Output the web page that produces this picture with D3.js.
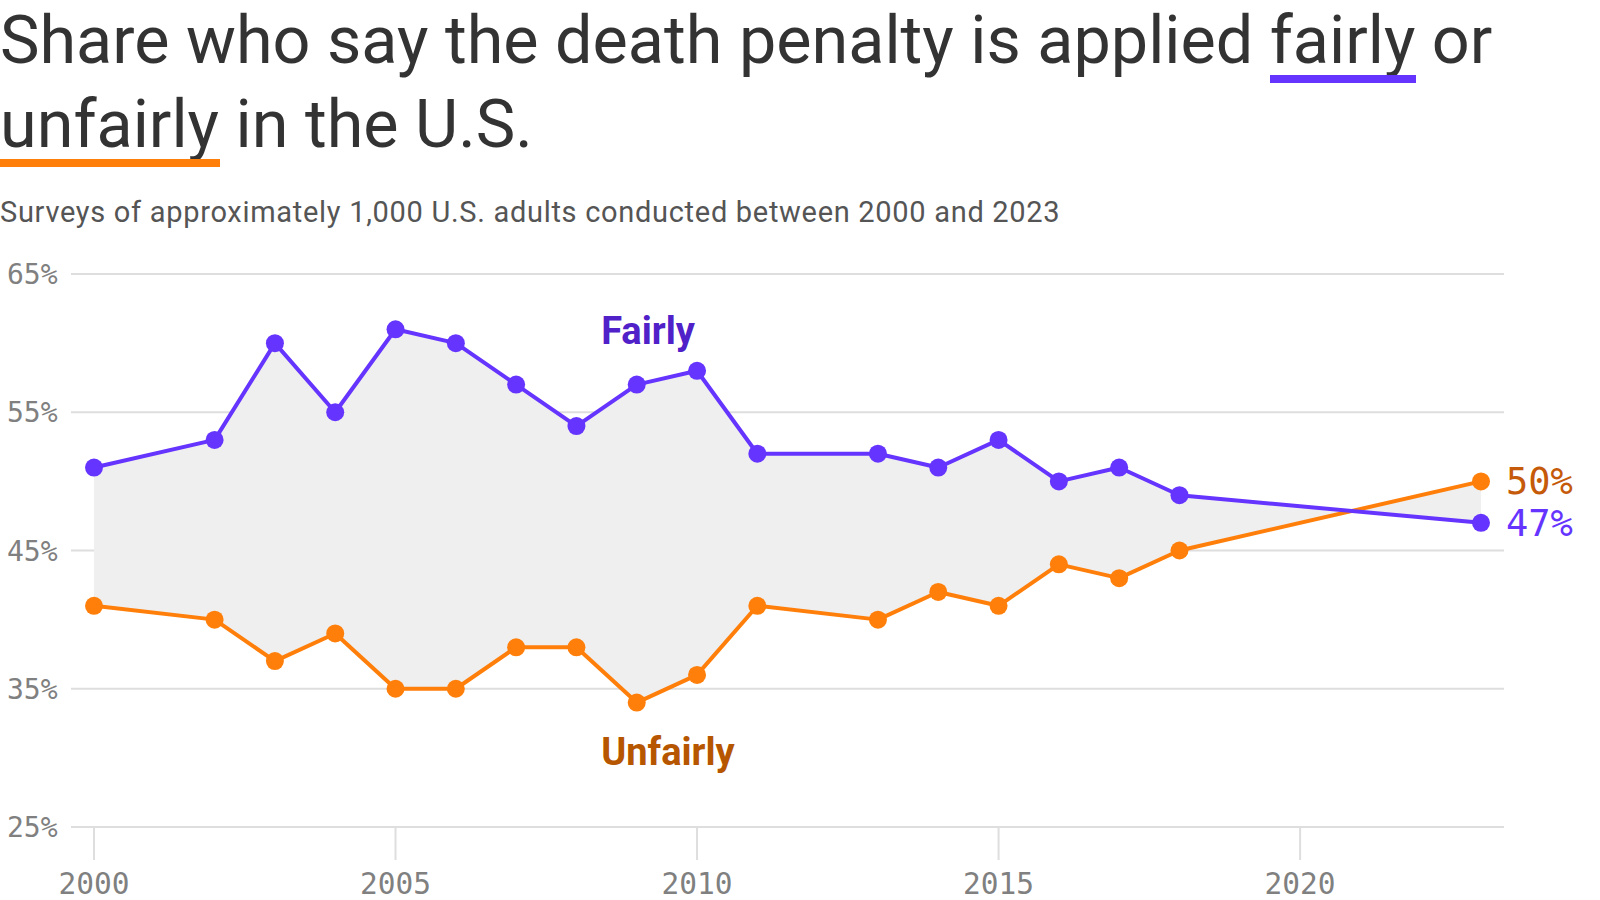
<!DOCTYPE html>
<html>
<head>
<meta charset="utf-8">
<script src="https://cdn.jsdelivr.net/npm/d3@7"></script>
<style>
  body { margin: 0; background: #fff; }
  svg { display: block; }
</style>
</head>
<body>
<div id="vis"></div>
<script>
// survey years and the two series (percent)
var years = [2000, 2002, 2003, 2004, 2005, 2006, 2007, 2008, 2009, 2010, 2011, 2013, 2014, 2015, 2016, 2017, 2018, 2023];
var fairly = [51, 53, 60, 55, 61, 60, 57, 54, 57, 58, 52, 52, 51, 53, 50, 51, 49, 47];
var unfairly = [41, 40, 37, 39, 35, 35, 38, 38, 34, 36, 41, 40, 42, 41, 44, 43, 45, 50];
var yTicks = [25, 35, 45, 55, 65];
var xTicks = [2000, 2005, 2010, 2015, 2020];

var purple = "#6534ff";
var orange = "#ff7f0a";

var width = 1600, height = 900;

var svg = d3.select("#vis")
  .append("svg")
  .attr("width", width)
  .attr("height", height);

var x = d3.scaleLinear().domain([2000, 2023]).range([94, 1481]);
var y = d3.scaleLinear().domain([25, 65]).range([827, 274]);

// title
var title = svg.append("text")
  .attr("font-family", "Roboto")
  .attr("font-size", "66.5px")
  .attr("fill", "#333");
title.append("tspan").attr("x", 0).attr("y", 63)
  .text("Share who say the death penalty is applied fairly or");
title.append("tspan").attr("x", 0).attr("y", 147)
  .text("unfairly in the U.S.");

// underlines under the key words
svg.append("rect").attr("x", 1270).attr("y", 75).attr("width", 146).attr("height", 8).attr("fill", purple);
svg.append("rect").attr("x", 0).attr("y", 159).attr("width", 220).attr("height", 8).attr("fill", orange);

svg.append("text")
  .attr("x", 0)
  .attr("y", 222)
  .attr("font-family", "Roboto")
  .attr("font-size", "29px")
  .attr("letter-spacing", "0.7px")
  .attr("fill", "#555")
  .text("Surveys of approximately 1,000 U.S. adults conducted between 2000 and 2023");

// grid
svg.selectAll(".grid")
  .data(yTicks)
  .enter()
  .append("line")
  .attr("x1", 71)
  .attr("x2", 1504)
  .attr("y1", function (d) { return y(d); })
  .attr("y2", function (d) { return y(d); })
  .attr("stroke", "#dedede")
  .attr("stroke-width", 2);

svg.selectAll(".ylab")
  .data(yTicks)
  .enter()
  .append("text")
  .attr("x", 7)
  .attr("y", function (d) { return y(d) + 10; })
  .attr("font-family", "DejaVu Sans Mono")
  .attr("font-size", "28px")
  .attr("fill", "#808080")
  .text(function (d) { return d + "%"; });

// x axis ticks
svg.selectAll(".xtick")
  .data(xTicks)
  .enter()
  .append("line")
  .attr("x1", function (d) { return x(d); })
  .attr("x2", function (d) { return x(d); })
  .attr("y1", y(25))
  .attr("y2", 860)
  .attr("stroke", "#dedede")
  .attr("stroke-width", 2);

svg.selectAll(".xlab")
  .data(xTicks)
  .enter()
  .append("text")
  .attr("x", function (d) { return x(d); })
  .attr("y", 894)
  .attr("text-anchor", "middle")
  .attr("font-family", "DejaVu Sans Mono")
  .attr("font-size", "29.5px")
  .attr("fill", "#808080")
  .text(function (d) { return d; });

var rows = years.map(function (yr, i) {
  return { year: yr, fairly: fairly[i], unfairly: unfairly[i] };
});

// shaded band between the two lines
var area = d3.area()
  .x(function (d) { return x(d.year); })
  .y0(function (d) { return y(d.unfairly); })
  .y1(function (d) { return y(d.fairly); });

svg.append("path")
  .datum(rows)
  .attr("d", area)
  .attr("fill", "#efefef");

function drawSeries(key, color) {
  var line = d3.line()
    .x(function (d) { return x(d.year); })
    .y(function (d) { return y(d[key]); });

  svg.append("path")
    .datum(rows)
    .attr("d", line)
    .attr("fill", "none")
    .attr("stroke", color)
    .attr("stroke-width", 4)
    .attr("stroke-linejoin", "round");

  svg.selectAll(".dot-" + key)
    .data(rows)
    .enter()
    .append("circle")
    .attr("cx", function (d) { return x(d.year); })
    .attr("cy", function (d) { return y(d[key]); })
    .attr("r", 9)
    .attr("fill", color);
}

drawSeries("unfairly", orange);
drawSeries("fairly", purple);

// series labels
svg.append("text")
  .attr("x", 648)
  .attr("y", 344)
  .attr("text-anchor", "middle")
  .attr("font-family", "Roboto")
  .attr("font-weight", 700)
  .attr("font-size", "38px")
  .attr("fill", "#5020c8")
  .text("Fairly");

svg.append("text")
  .attr("x", 668)
  .attr("y", 765)
  .attr("text-anchor", "middle")
  .attr("font-family", "Roboto")
  .attr("font-weight", 700)
  .attr("font-size", "38px")
  .attr("fill", "#b65600")
  .text("Unfairly");

// end value labels
var last = rows[rows.length - 1];
svg.append("text")
  .attr("x", 1506)
  .attr("y", y(last.unfairly) + 13)
  .attr("font-family", "DejaVu Sans Mono")
  .attr("font-size", "37px")
  .attr("fill", "#c55a0a")
  .text(last.unfairly + "%");

svg.append("text")
  .attr("x", 1506)
  .attr("y", y(last.fairly) + 13)
  .attr("font-family", "DejaVu Sans Mono")
  .attr("font-size", "37px")
  .attr("fill", purple)
  .text(last.fairly + "%");
</script>
</body>
</html>
